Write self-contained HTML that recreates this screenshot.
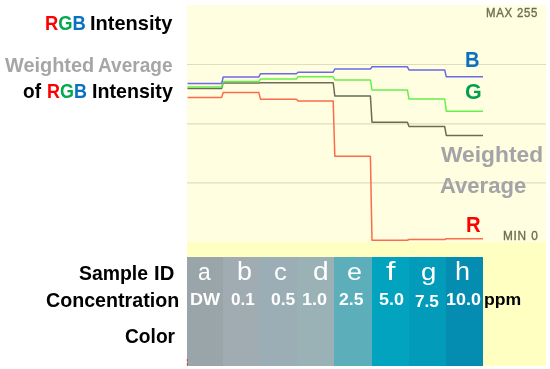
<!DOCTYPE html>
<html><head><meta charset="utf-8"><title>RGB Intensity</title>
<style>
html,body{margin:0;padding:0;background:#fff;}
body{width:550px;height:369px;position:relative;overflow:hidden;font-family:"Liberation Sans",sans-serif;}
.chart{position:absolute;left:187px;top:4.6px;width:358.7px;height:237px;background:#fffee0;}
.band{position:absolute;left:187px;top:241.5px;width:358.7px;height:124.2px;background:#ffffc1;}
.sw{position:absolute;top:257px;height:108.5px;}
svg{position:absolute;left:0;top:0;}
.t{position:absolute;white-space:nowrap;line-height:1;transform-origin:0 0;}
#mx,#mn{-webkit-text-stroke:0.35px #6c6c50;letter-spacing:0.7px;word-spacing:0.5px}
</style></head><body>
<div class="chart"></div>
<div class="band"></div>
<div class="sw" style="left:187px;width:36.5px;background:#9aa5aa"></div>
<div class="sw" style="left:223px;width:36.5px;background:#a1acb2"></div>
<div class="sw" style="left:259px;width:38.5px;background:#9caeb5"></div>
<div class="sw" style="left:297px;width:37.8px;background:#9ab1b6"></div>
<div class="sw" style="left:334.3px;width:37.7px;background:#5caebb"></div>
<div class="sw" style="left:371.5px;width:38.0px;background:#02a3be"></div>
<div class="sw" style="left:409px;width:37.8px;background:#029bba"></div>
<div class="sw" style="left:446.3px;width:36.9px;background:#048cb1"></div>
<svg width="550" height="369" viewBox="0 0 550 369" fill="none" stroke-linejoin="round" stroke-linecap="butt">
<line x1="187" x2="546" y1="64.5" y2="64.5" stroke="#dedebf" stroke-width="1.2"/>
<line x1="187" x2="546" y1="123.9" y2="123.9" stroke="#dedebf" stroke-width="1.2"/>
<line x1="187" x2="546" y1="182.9" y2="182.9" stroke="#dedebf" stroke-width="1.2"/>
<path d="M187.5 88.6 L221.6 88.6 L223.2 82.9 L258.9 82.9 L260.5 82.7 L296.4 82.7 L298.0 82.8 L333.2 82.8 L334.8 96.0 L370.4 96.0 L372.0 122.2 L407.4 122.2 L409.0 126.6 L444.7 126.6 L446.3 135.4 L483.0 135.4" stroke="#6e6b55" stroke-width="1.5"/>
<path d="M187.5 97.6 L221.6 97.6 L223.2 92.6 L258.9 92.6 L260.5 99.3 L296.4 99.3 L298.0 100.9 L333.2 100.9 L334.8 156.3 L370.4 156.3 L372.0 240.2 L407.4 240.2 L409.0 239.5 L444.7 239.5 L446.3 238.8 L483.0 238.8" stroke="#ff6a4a" stroke-width="1.5"/>
<path d="M187.5 87.0 L221.6 87.0 L223.2 81.5 L258.9 81.5 L260.5 79.1 L296.4 79.1 L298.0 76.8 L333.2 76.8 L334.8 79.9 L370.4 79.9 L372.0 89.9 L407.4 89.9 L409.0 99.0 L444.7 99.0 L446.3 111.2 L483.0 111.2" stroke="#66f04a" stroke-width="1.5"/>
<path d="M187.5 83.6 L221.6 83.6 L223.2 77.0 L258.9 77.0 L260.5 73.7 L296.4 73.7 L298.0 72.2 L333.2 72.2 L334.8 69.1 L370.4 69.1 L372.0 66.8 L407.4 66.8 L409.0 70.0 L444.7 70.0 L446.3 76.8 L483.0 76.8" stroke="#6a6ae8" stroke-width="1.5"/>
<path d="M187.3 359v2.5M187.3 363v2.5" stroke="#e03030" stroke-width="1"/>
</svg>
<div class="t" id="t1a" style="left:45.00px;top:14.14px;font-size:19.70px;font-weight:bold;color:#000;transform:scaleX(0.9322)"><span style="color:#ff0000">R</span><span style="color:#00a84f">G</span><span style="color:#0a70c0">B</span></div>
<div class="t" id="t1b" style="left:90.40px;top:14.14px;font-size:19.70px;font-weight:bold;color:#000;transform:scaleX(1.0162)">Intensity</div>
<div class="t" id="t2a" style="left:4.65px;top:56.10px;font-size:19.70px;font-weight:bold;color:#a6a6a6;transform:scaleX(1.0113)">Weighted</div>
<div class="t" id="t2b" style="left:97.50px;top:56.10px;font-size:19.70px;font-weight:bold;color:#a6a6a6;transform:scaleX(0.9682)">Average</div>
<div class="t" id="t3a" style="left:22.70px;top:82.14px;font-size:19.70px;font-weight:bold;color:#000;transform:scaleX(0.9681)">of</div>
<div class="t" id="t3b" style="left:46.80px;top:82.14px;font-size:19.70px;font-weight:bold;color:#000;transform:scaleX(0.9106)"><span style="color:#ff0000">R</span><span style="color:#00a84f">G</span><span style="color:#0a70c0">B</span></div>
<div class="t" id="t3c" style="left:92.10px;top:82.14px;font-size:19.70px;font-weight:bold;color:#000;transform:scaleX(0.9982)">Intensity</div>
<div class="t" id="t4a" style="left:78.50px;top:263.06px;font-size:20.30px;font-weight:bold;color:#000;transform:scaleX(0.9563)">Sample</div>
<div class="t" id="t4b" style="left:153.70px;top:263.06px;font-size:20.30px;font-weight:bold;color:#000;transform:scaleX(0.9987)">ID</div>
<div class="t" id="t5" style="left:45.50px;top:290.16px;font-size:20.30px;font-weight:bold;color:#000;transform:scaleX(0.9687)">Concentration</div>
<div class="t" id="t6" style="left:124.50px;top:325.66px;font-size:20.30px;font-weight:bold;color:#000;transform:scaleX(0.9456)">Color</div>
<div class="t" id="lb" style="left:465.10px;top:49.06px;font-size:22.40px;font-weight:bold;color:#0a70c0;transform:scaleX(0.8995)">B</div>
<div class="t" id="lg" style="left:464.50px;top:81.16px;font-size:22.00px;font-weight:bold;color:#00a050;transform:scaleX(0.9779)">G</div>
<div class="t" id="lr" style="left:466.30px;top:213.86px;font-size:22.40px;font-weight:bold;color:#ff0000;transform:scaleX(0.9047)">R</div>
<div class="t" id="w1" style="left:440.65px;top:144.86px;font-size:21.40px;font-weight:bold;color:#a3a3a8;transform:scaleX(1.0649)">Weighted</div>
<div class="t" id="w2" style="left:439.65px;top:176.04px;font-size:21.40px;font-weight:bold;color:#a3a3a8;transform:scaleX(1.0304)">Average</div>
<div class="t" id="mx" style="left:485.65px;top:6.91px;font-size:12.20px;font-weight:normal;color:#6c6c50;transform:scaleX(0.9367)">MAX 255</div>
<div class="t" id="mn" style="left:502.60px;top:229.87px;font-size:12.20px;font-weight:normal;color:#6c6c50;transform:scaleX(0.9710)">MIN 0</div>
<div class="t" id="La" style="left:197.65px;top:260.09px;font-size:23.80px;font-weight:normal;color:#fff;transform:scaleX(0.9583)">a</div>
<div class="t" id="Lb" style="left:237.00px;top:258.91px;font-size:25.60px;font-weight:normal;color:#fff;transform:scaleX(1.0510)">b</div>
<div class="t" id="Lc" style="left:273.50px;top:260.09px;font-size:23.80px;font-weight:normal;color:#fff;transform:scaleX(1.0781)">c</div>
<div class="t" id="Ld" style="left:312.70px;top:258.91px;font-size:25.60px;font-weight:normal;color:#fff;transform:scaleX(1.0982)">d</div>
<div class="t" id="Le" style="left:346.70px;top:260.09px;font-size:23.80px;font-weight:normal;color:#fff;transform:scaleX(1.1295)">e</div>
<div class="t" id="Lf" style="left:385.65px;top:258.91px;font-size:25.60px;font-weight:normal;color:#fff;transform:scaleX(1.3297)">f</div>
<div class="t" id="Lg" style="left:420.60px;top:260.09px;font-size:23.80px;font-weight:normal;color:#fff;transform:scaleX(1.1585)">g</div>
<div class="t" id="Lh" style="left:455.00px;top:258.91px;font-size:25.60px;font-weight:normal;color:#fff;transform:scaleX(1.0565)">h</div>
<div class="t" id="C0" style="left:190.00px;top:290.99px;font-size:16.50px;font-weight:bold;color:#fff;transform:scaleX(1.0960)">DW</div>
<div class="t" id="C1" style="left:230.55px;top:290.99px;font-size:16.50px;font-weight:bold;color:#fff;transform:scaleX(1.0337)">0.1</div>
<div class="t" id="C2" style="left:270.70px;top:290.99px;font-size:16.50px;font-weight:bold;color:#fff;transform:scaleX(1.0589)">0.5</div>
<div class="t" id="C3" style="left:301.80px;top:290.99px;font-size:16.50px;font-weight:bold;color:#fff;transform:scaleX(1.0936)">1.0</div>
<div class="t" id="C4" style="left:338.70px;top:290.99px;font-size:16.50px;font-weight:bold;color:#fff;transform:scaleX(1.0660)">2.5</div>
<div class="t" id="C5" style="left:378.55px;top:290.99px;font-size:16.50px;font-weight:bold;color:#fff;transform:scaleX(1.0868)">5.0</div>
<div class="t" id="C6" style="left:414.50px;top:293.07px;font-size:16.50px;font-weight:bold;color:#fff;transform:scaleX(1.0409)">7.5</div>
<div class="t" id="C7" style="left:446.00px;top:290.99px;font-size:16.50px;font-weight:bold;color:#fff;transform:scaleX(1.0846)">10.0</div>
<div class="t" id="ppm" style="left:484.20px;top:290.79px;font-size:16.20px;font-weight:bold;color:#000;transform:scaleX(1.0908)">ppm</div>
</body></html>
